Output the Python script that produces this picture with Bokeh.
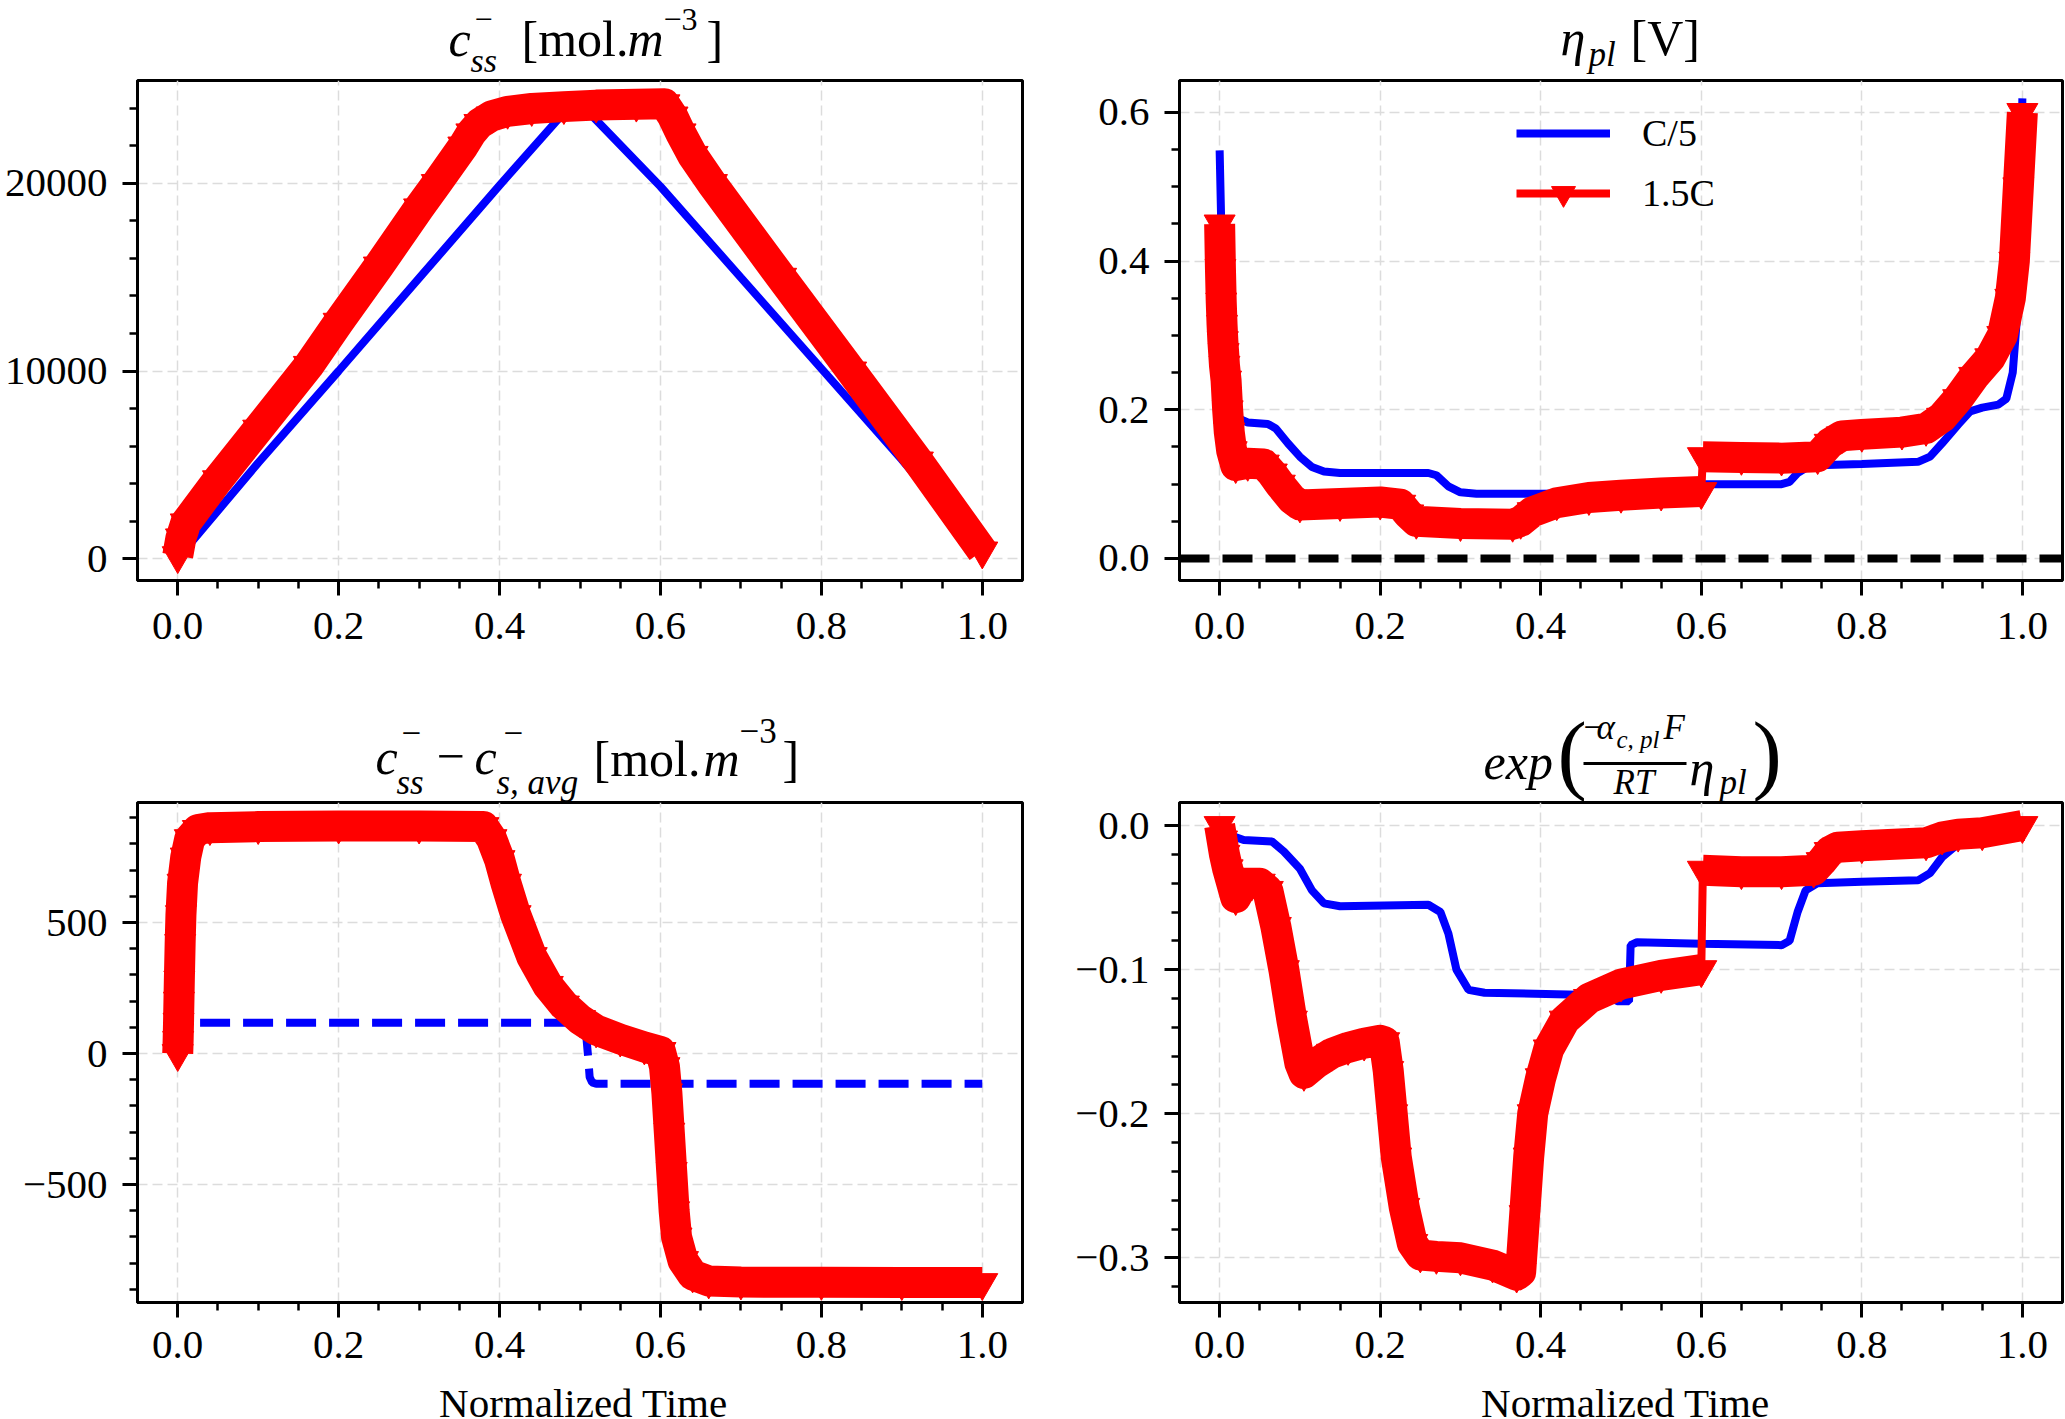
import numpy as np
from bokeh.plotting import figure
from bokeh.layouts import row, column
from bokeh.models import Range1d, FixedTicker, Legend, LegendItem, Span
from bokeh.core.properties import value
from bokeh.embed import file_html
from bokeh.resources import INLINE

FONT = "Liberation Serif"
BLUE = "#0000ff"
RED = "#ff0000"

# ---------------- data ----------------
# surface concentration c_ss [mol/m^3]
css_t_c5 = [0.0, 0.1, 0.2, 0.3, 0.4, 0.495, 0.6, 0.7, 0.8, 0.9, 1.0]
css_c5 = [0, 5100, 10000, 14950, 19900, 24500, 19840, 14980, 10130, 5270, 200]
css_t_15 = [0.0, 0.004, 0.01, 0.05, 0.1, 0.163, 0.2, 0.25, 0.3, 0.322, 0.355,
            0.365, 0.375, 0.39, 0.41, 0.44, 0.48, 0.52, 0.57, 0.605, 0.615,
            0.625, 0.64, 0.664, 0.75, 0.837, 0.92, 1.0]
css_15 = [150, 1100, 1900, 4200, 6900, 10300, 12600, 15600, 18700, 20000,
          22000, 22700, 23200, 23600, 23850, 24000, 24100, 24180, 24230, 24250,
          23600, 22700, 21500, 20000, 15000, 10000, 5200, 400]

# plating overpotential eta_pl [V]
eta_t_c5 = [0.0, 0.002, 0.004, 0.007, 0.012, 0.02, 0.035, 0.06, 0.07, 0.085,
            0.1, 0.115, 0.13, 0.15, 0.26, 0.27, 0.285, 0.3, 0.32, 0.4, 0.49,
            0.51, 0.6, 0.7, 0.71, 0.72, 0.735, 0.8, 0.87, 0.885, 0.9, 0.92,
            0.935, 0.95, 0.97, 0.98, 0.988, 0.993, 0.997, 1.0]
eta_c5 = [0.549, 0.45, 0.35, 0.26, 0.21, 0.19, 0.183, 0.181, 0.175, 0.155,
          0.137, 0.123, 0.117, 0.115, 0.115, 0.112, 0.097, 0.089, 0.087, 0.087,
          0.088, 0.1, 0.1, 0.1, 0.103, 0.115, 0.125, 0.127, 0.13, 0.137, 0.155,
          0.18, 0.198, 0.203, 0.207, 0.215, 0.25, 0.32, 0.45, 0.619]
eta_t_15 = [0.0, 0.001, 0.002, 0.003, 0.004, 0.005, 0.006, 0.008, 0.01, 0.012,
            0.015, 0.02, 0.035, 0.055, 0.065, 0.075, 0.09, 0.1, 0.15, 0.2,
            0.225, 0.235, 0.245, 0.3, 0.365, 0.375, 0.39, 0.42, 0.46, 0.5,
            0.55, 0.6, 0.602, 0.65, 0.7, 0.745, 0.76, 0.775, 0.8, 0.85, 0.88,
            0.9, 0.92, 0.94, 0.96, 0.975, 0.985, 0.99, 0.995, 1.0]
eta_15 = [0.45, 0.39, 0.345, 0.315, 0.293, 0.277, 0.26, 0.24, 0.2, 0.17,
          0.145, 0.125, 0.128, 0.127, 0.115, 0.1, 0.08, 0.072, 0.074, 0.076,
          0.073, 0.06, 0.05, 0.047, 0.046, 0.05, 0.063, 0.075, 0.082, 0.085,
          0.088, 0.09, 0.137, 0.136, 0.135, 0.137, 0.155, 0.165, 0.167, 0.17,
          0.175, 0.19, 0.215, 0.245, 0.27, 0.3, 0.35, 0.4, 0.5, 0.6]
eta_jump = 0.601  # the 1.5C series is discontinuous here

# surface minus average concentration [mol/m^3]
dc_t_c5 = [0.0, 0.01, 0.02, 0.1, 0.2, 0.3, 0.4, 0.505, 0.508, 0.51, 0.512,
           0.515, 0.52, 0.6, 0.7, 0.8, 0.9, 1.0]
dc_c5 = [0, 100, 118, 118, 118, 118, 118, 117, 60, -10, -90, -110, -115,
         -115, -115, -115, -115, -115]
dc_t_15 = [0.0, 0.0005, 0.001, 0.0015, 0.002, 0.003, 0.004, 0.006, 0.01,
           0.015, 0.025, 0.04, 0.1, 0.2, 0.3, 0.38, 0.39, 0.4, 0.408, 0.42,
           0.44, 0.46, 0.48, 0.5, 0.52, 0.55, 0.58, 0.6, 0.605, 0.608, 0.611,
           0.614, 0.617, 0.62, 0.628, 0.64, 0.66, 0.7, 0.8, 0.9, 1.0]
dc_15 = [0, 50, 120, 200, 280, 420, 530, 650, 750, 820, 855, 862, 866, 868,
         868, 866, 820, 740, 650, 530, 370, 260, 185, 130, 90, 55, 25, 8, -50,
         -150, -300, -450, -600, -700, -790, -845, -868, -872, -873, -874, -874]

# exponential plating term
ex_t_c5 = [0.0, 0.005, 0.015, 0.03, 0.065, 0.08, 0.1, 0.115, 0.13, 0.15, 0.26,
           0.275, 0.285, 0.295, 0.31, 0.33, 0.42, 0.49, 0.495, 0.51, 0.512,
           0.52, 0.6, 0.7, 0.71, 0.72, 0.73, 0.745, 0.8, 0.87, 0.885, 0.9,
           0.915, 0.94, 0.97, 1.0]
ex_c5 = [0.0, -0.003, -0.007, -0.01, -0.011, -0.018, -0.03, -0.045, -0.054,
         -0.056, -0.055, -0.06, -0.075, -0.1, -0.114, -0.116, -0.117, -0.118,
         -0.122, -0.122, -0.083, -0.081, -0.082, -0.083, -0.08, -0.06, -0.045,
         -0.04, -0.039, -0.038, -0.033, -0.022, -0.015, -0.009, -0.005, -0.002]
ex_t_15 = [0.0, 0.003, 0.006, 0.01, 0.015, 0.02, 0.025, 0.03, 0.04, 0.05,
           0.06, 0.07, 0.08, 0.09, 0.1, 0.105, 0.12, 0.14, 0.16, 0.18, 0.2,
           0.205, 0.21, 0.215, 0.22, 0.23, 0.24, 0.25, 0.27, 0.3, 0.34, 0.37,
           0.375, 0.38, 0.385, 0.39, 0.4, 0.41, 0.43, 0.46, 0.5, 0.55, 0.6,
           0.602, 0.65, 0.7, 0.74, 0.75, 0.76, 0.77, 0.8, 0.88, 0.9, 0.92,
           0.95, 1.0]
ex_15 = [0.0, -0.01, -0.02, -0.03, -0.04, -0.05, -0.045, -0.04, -0.04, -0.04,
         -0.045, -0.07, -0.1, -0.135, -0.165, -0.172, -0.165, -0.158, -0.154,
         -0.151, -0.149, -0.15, -0.17, -0.2, -0.23, -0.265, -0.29, -0.298,
         -0.299, -0.3, -0.305, -0.312, -0.31, -0.27, -0.23, -0.2, -0.175,
         -0.155, -0.135, -0.12, -0.11, -0.104, -0.1, -0.031, -0.032, -0.032,
         -0.031, -0.025, -0.018, -0.015, -0.014, -0.012, -0.008, -0.006,
         -0.005, 0.0]

# axis ticks
X_TICKS = [0.0, 0.2, 0.4, 0.6, 0.8, 1.0]
X_LABELS = ["0.0", "0.2", "0.4", "0.6", "0.8", "1.0"]
CSS_TICKS = [0, 10000, 20000]
CSS_LABELS = ["0", "10000", "20000"]
ETA_TICKS = [0.0, 0.2, 0.4, 0.6]
ETA_LABELS = ["0.0", "0.2", "0.4", "0.6"]
DC_TICKS = [-500, 0, 500]
DC_LABELS = ["\u2212500", "0", "500"]
EX_TICKS = [-0.3, -0.2, -0.1, 0.0]
EX_LABELS = ["\u22120.3", "\u22120.2", "\u22120.1", "0.0"]
X_TITLE = "Normalized Time"

# ---------------- page geometry (pixels) ----------------
XR = (-0.05, 1.05)
W_LEFT, W_RIGHT = 1060, 1005          # column widths
FW_L, FW_R, FH = 885, 883, 500        # frame sizes
FL_L, FL_R = 137, 1179                # frame left edges
TITLE1_H, TITLE2_H = 78, 111          # title strips above each row
ROW1_TOP, ROW2_TOP = 78, 690
XLAB_TOP, XLAB_H = 1379, 40
BASELINE_FIX = 0.3                    # text glyph baseline correction (em)


def make_panel(fl, col_left, col_w, fw, row_top, frame_top, row_bottom,
               yr, yticks, ylabels, yminor, x_standoff=17):
    p = figure(frame_width=fw, frame_height=FH,
               min_border_left=fl - col_left,
               min_border_right=col_left + col_w - fl - fw,
               min_border_top=frame_top - row_top,
               min_border_bottom=row_bottom - frame_top - FH,
               x_range=Range1d(*XR), y_range=Range1d(*yr),
               output_backend="svg", toolbar_location=None, title=None)
    p.background_fill_color = "white"
    p.border_fill_color = "white"
    p.outline_line_color = "black"
    p.outline_line_width = 3
    p.outline_line_alpha = 1.0

    p.xaxis.ticker = FixedTicker(ticks=X_TICKS,
                                 minor_ticks=list(np.arange(0, 1.0001, 0.05)))
    p.xaxis.major_label_overrides = dict(zip(X_TICKS, X_LABELS))
    p.yaxis.ticker = FixedTicker(ticks=yticks, minor_ticks=list(yminor))
    p.yaxis.major_label_overrides = dict(zip(yticks, ylabels))

    for ax in p.axis:
        ax.axis_line_width = 3
        ax.axis_line_color = "black"
        ax.major_tick_line_width = 3
        ax.minor_tick_line_width = 2.5
        ax.major_tick_line_color = "black"
        ax.minor_tick_line_color = "black"
        ax.major_tick_out = 15
        ax.major_tick_in = 0
        ax.minor_tick_out = 8
        ax.minor_tick_in = 0
        ax.major_label_text_font = FONT
        ax.major_label_text_font_size = "41px"
        ax.major_label_text_color = "black"
    p.xaxis.major_label_standoff = x_standoff
    p.yaxis.major_label_standoff = 15

    p.grid.grid_line_color = "#dcdcdc"
    p.grid.grid_line_dash = "10 5"
    p.grid.grid_line_width = 1.5
    return p


def text_strip(col_left, top, w, h, runs, bars=()):
    """A borderless strip holding typeset text; coordinates are page pixels."""
    t = figure(frame_width=w, frame_height=h,
               min_border_left=0, min_border_right=0,
               min_border_top=0, min_border_bottom=0,
               x_range=Range1d(col_left, col_left + w),
               y_range=Range1d(top + h, top),
               x_axis_type=None, y_axis_type=None,
               output_backend="svg", toolbar_location=None, title=None)
    t.outline_line_color = None
    t.background_fill_color = "white"
    t.border_fill_color = "white"
    for text, px, py, size, style, align in runs:
        t.text(x=[px], y=[py - BASELINE_FIX * size], text=[text],
               text_font=value(FONT), text_font_size=value(f"{size}px"),
               text_font_style=value(style), text_baseline="alphabetic",
               text_align=align, text_color="black")
    for x0, x1, y in bars:
        t.segment(x0=[x0], y0=[y], x1=[x1], y1=[y], line_color="black",
                  line_width=3)
    return t


def draw_band(p, t, v, split=None):
    """1.5C series: heavy band of triangle markers along a red line."""
    t = np.asarray(t, dtype=float)
    v = np.asarray(v, dtype=float)
    pieces = [np.ones_like(t, dtype=bool)] if split is None else [t < split, t >= split]
    for m in pieces:
        p.line(t[m], v[m], line_color=RED, line_width=31, line_join="round")
    thin = p.line(t, v, line_color=RED, line_width=8)
    marks = p.scatter(t, v, marker="inverted_triangle", size=31,
                      fill_color=RED, line_color=RED)
    return thin, marks


# ---- top left: c_ss ----
p1 = make_panel(FL_L, 0, W_LEFT, FW_L, ROW1_TOP, 80, ROW2_TOP,
                (-1173, 25493), CSS_TICKS, CSS_LABELS,
                np.arange(0, 24001, 2000))
p1.line(css_t_c5, css_c5, line_color=BLUE, line_width=8)
draw_band(p1, css_t_15, css_15)
t1 = text_strip(0, 0, W_LEFT, TITLE1_H, [
    ("c", 448, 53, 50, "italic", "left"),
    ("ss", 470, 70, 34, "italic", "left"),
    ("\u2212", 474, 29, 32, "normal", "left"),
    ("[mol.", 521, 53, 50, "normal", "left"),
    ("m", 627, 53, 50, "italic", "left"),
    ("\u22123", 663, 29, 32, "normal", "left"),
    ("]", 706, 53, 50, "normal", "left")])

# ---- top right: eta_pl ----
p2 = make_panel(FL_R, W_LEFT, W_RIGHT, FW_R, ROW1_TOP, 80, ROW2_TOP,
                (-0.0296, 0.643), ETA_TICKS, ETA_LABELS,
                np.arange(0, 0.6001, 0.05))
p2.add_layout(Span(location=0, dimension="width", line_color="black",
                   line_width=8, line_dash="30 13"))
blue2 = p2.line(eta_t_c5, eta_c5, line_color=BLUE, line_width=8)
thin2, marks2 = draw_band(p2, eta_t_15, eta_15, split=eta_jump)
legend = Legend(items=[LegendItem(label="C/5", renderers=[blue2]),
                       LegendItem(label="1.5C", renderers=[thin2, marks2])],
                location=(337, 357))
legend.background_fill_alpha = 0
legend.border_line_alpha = 0
legend.padding = 0
legend.margin = 0
legend.spacing = 0
legend.glyph_width = 94
legend.glyph_height = 60
legend.label_height = 60
legend.label_standoff = 32
legend.label_text_font = FONT
legend.label_text_font_size = "38px"
legend.label_text_color = "black"
p2.add_layout(legend)
t2 = text_strip(W_LEFT, 0, W_RIGHT, TITLE1_H, [
    ("\u03b7", 1560, 52, 50, "italic", "left"),
    ("pl", 1588, 64, 35, "italic", "left"),
    ("[V]", 1630, 52, 50, "normal", "left")])

# ---- bottom left: c_ss - c_s,avg ----
p3 = make_panel(FL_L, 0, W_LEFT, FW_L, ROW2_TOP + TITLE2_H, 802, XLAB_TOP,
                (-950, 958), DC_TICKS, DC_LABELS, np.arange(-900, 901, 100),
                x_standoff=14)
p3.line(dc_t_c5, dc_c5, line_color=BLUE, line_width=8, line_dash="30 13")
draw_band(p3, dc_t_15, dc_15)
t3 = text_strip(0, ROW2_TOP, W_LEFT, TITLE2_H, [
    ("c", 375, 771, 50, "italic", "left"),
    ("ss", 396, 792, 35, "italic", "left"),
    ("\u2212", 401, 743, 35, "normal", "left"),
    ("\u2212", 436, 771, 50, "normal", "left"),
    ("c", 474, 771, 50, "italic", "left"),
    ("s, avg", 496, 792, 35, "italic", "left"),
    ("\u2212", 503, 743, 35, "normal", "left"),
    ("[mol.", 593, 773, 50, "normal", "left"),
    ("m", 703, 773, 50, "italic", "left"),
    ("\u22123", 739, 741, 35, "normal", "left"),
    ("]", 782, 773, 50, "normal", "left")])

# ---- bottom right: exp term ----
p4 = make_panel(FL_R, W_LEFT, W_RIGHT, FW_R, ROW2_TOP + TITLE2_H, 802,
                XLAB_TOP, (-0.331, 0.016), EX_TICKS, EX_LABELS,
                np.arange(-0.32, 0.0001, 0.02), x_standoff=14)
p4.line(ex_t_c5, ex_c5, line_color=BLUE, line_width=8)
draw_band(p4, ex_t_15, ex_15, split=eta_jump)
t4 = text_strip(W_LEFT, ROW2_TOP, W_RIGHT, TITLE2_H, [
    ("exp", 1483, 776, 50, "italic", "left"),
    ("(", 1557, 779, 88, "normal", "left"),
    ("\u2212", 1583, 737, 35, "normal", "left"),
    ("\u03b1", 1596, 737, 35, "italic", "left"),
    ("c, pl", 1616, 746, 25, "italic", "left"),
    ("F", 1663, 737, 35, "italic", "left"),
    ("RT", 1613, 792, 35, "italic", "left"),
    ("\u03b7", 1689, 782, 50, "italic", "left"),
    ("pl", 1719, 792, 35, "italic", "left"),
    (")", 1752, 779, 88, "normal", "left")],
    bars=[(1583, 1686, 763)])

# ---- x-axis titles under the bottom row ----
x3 = text_strip(0, XLAB_TOP, W_LEFT, XLAB_H,
                [(X_TITLE, 583, 1415, 41, "normal", "center")])
x4 = text_strip(W_LEFT, XLAB_TOP, W_RIGHT, XLAB_H,
                [(X_TITLE, 1625, 1415, 41, "normal", "center")])

layout = column(row(t1, t2), row(p1, p2), row(t3, t4), row(p3, p4),
                row(x3, x4))
open("out.html", "w").write(file_html(layout, INLINE))
